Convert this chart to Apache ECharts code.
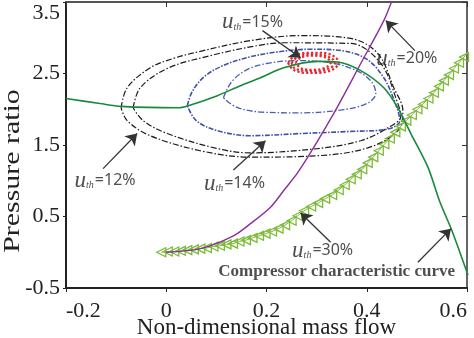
<!DOCTYPE html>
<html lang="en">
<head>
<meta charset="UTF-8">
<title>Compressor limit cycles</title>
<script src="https://cdn.jsdelivr.net/npm/echarts@6/dist/echarts.min.js"></script>
<style>
    html, body { margin: 0; padding: 0; background: #fff; }
    #chart { width: 474px; height: 338px; }
</style>
</head>
<body>
<div id="chart"></div>
<script>
// compressor characteristic curve [mass flow, pressure ratio]
var compressorCurve = [[-0.2, 2.15], [-0.132, 2.08], [-0.09, 2.04], [0.022, 2.02], [0.044, 2.05], [0.102, 2.19], [0.148, 2.33], [0.188, 2.44], [0.234, 2.58], [0.302, 2.67], [0.342, 2.66], [0.388, 2.54], [0.434, 2.30], [0.462, 2.02], [0.488, 1.66], [0.522, 1.19], [0.545, 0.72], [0.57, 0.30], [0.602, -0.32]];
// uth = 20%
var uth20 = [[0.0, 0.0], [0.068, 0.05], [0.134, 0.23], [0.168, 0.40], [0.208, 0.63], [0.234, 0.86], [0.265, 1.14], [0.334, 1.94], [0.388, 2.64], [0.434, 3.24], [0.452, 3.55]];
// uth = 30% (triangle markers)
var uth30 = [[-0.01, 0.0], [0.003, 0.01], [0.016, 0.01], [0.029, 0.02], [0.042, 0.03], [0.055, 0.04], [0.068, 0.05], [0.081, 0.06], [0.094, 0.08], [0.107, 0.09], [0.12, 0.11], [0.133, 0.12], [0.146, 0.15], [0.159, 0.17], [0.172, 0.20], [0.185, 0.23], [0.198, 0.26], [0.211, 0.29], [0.224, 0.33], [0.237, 0.38], [0.25, 0.44], [0.262, 0.51],
    [0.275, 0.58], [0.289, 0.64], [0.303, 0.69], [0.317, 0.75], [0.331, 0.80], [0.344, 0.87], [0.356, 0.94], [0.368, 1.02], [0.38, 1.09], [0.391, 1.16], [0.402, 1.25], [0.413, 1.33], [0.424, 1.42], [0.435, 1.51], [0.446, 1.59], [0.457, 1.68], [0.468, 1.76], [0.479, 1.84], [0.49, 1.92], [0.501, 2.0], [0.512, 2.07], [0.523, 2.15], [0.534, 2.23], [0.544, 2.32], [0.554, 2.40], [0.564, 2.48], [0.574, 2.57], [0.584, 2.65], [0.594, 2.73], [0.603, 2.81]];
// uth = 12% limit cycle (two loops)
var uth12Outer = [[-0.09, 2.02], [-0.078, 2.30], [-0.032, 2.58], [0.014, 2.71], [0.068, 2.81], [0.168, 2.96], [0.268, 3.03], [0.368, 2.99], [0.422, 2.78], [0.454, 2.30], [0.472, 1.98], [0.462, 1.70], [0.402, 1.46], [0.302, 1.35], [0.168, 1.33], [0.068, 1.42], [-0.032, 1.63], [-0.078, 1.84], [-0.09, 2.02]];
var uth12Inner = [[-0.066, 2.02], [-0.052, 2.30], [0.002, 2.57], [0.088, 2.75], [0.182, 2.89], [0.234, 2.93], [0.368, 2.92], [0.428, 2.64], [0.462, 2.08], [0.468, 1.90], [0.442, 1.74], [0.388, 1.56], [0.302, 1.45], [0.168, 1.39], [0.102, 1.45], [0.002, 1.66], [-0.046, 1.84], [-0.066, 2.02]];
// uth = 14% limit cycle (two loops)
var uth14Outer = [[0.042, 2.05], [0.052, 2.25], [0.075, 2.45], [0.11, 2.60], [0.16, 2.72], [0.22, 2.80], [0.29, 2.84], [0.35, 2.82], [0.40, 2.70], [0.434, 2.44], [0.456, 2.10], [0.466, 1.84], [0.44, 1.72], [0.368, 1.69], [0.268, 1.66], [0.168, 1.63], [0.102, 1.70], [0.06, 1.84], [0.042, 2.05]];
var uth14Inner = [[0.114, 2.16], [0.13, 2.38], [0.16, 2.55], [0.20, 2.64], [0.26, 2.68], [0.32, 2.66], [0.38, 2.54], [0.41, 2.38], [0.418, 2.22], [0.40, 2.08], [0.35, 1.99], [0.27, 1.95], [0.19, 1.96], [0.14, 2.03], [0.114, 2.16]];
// uth = 15% small cycle
var uth15Outer = [[0.243, 2.65], [0.255, 2.74], [0.28, 2.79], [0.31, 2.79], [0.335, 2.74], [0.344, 2.65], [0.333, 2.56], [0.305, 2.51], [0.275, 2.51], [0.252, 2.56], [0.243, 2.65]];
var uth15Mid = [[0.25, 2.65], [0.262, 2.73], [0.285, 2.77], [0.312, 2.76], [0.332, 2.70], [0.336, 2.64], [0.326, 2.575], [0.3, 2.53], [0.272, 2.54], [0.255, 2.58], [0.25, 2.65]];
var uth15Inner = [[0.258, 2.65], [0.268, 2.72], [0.29, 2.75], [0.315, 2.73], [0.328, 2.66], [0.32, 2.59], [0.295, 2.55], [0.27, 2.57], [0.258, 2.65]];

// annotations: label text and position, arrows tail -> tip
var uthLabels = [['15%', 0.172, 3.22], ['20%', 0.48, 2.71], ['12%', -0.122, 1.0], ['14%', 0.136, 0.96], ['30%', 0.312, 0.02]];
var curveLabel = ['Compressor characteristic curve', 0.34, -0.27];
var arrows = [[0.192, 3.10, 0.268, 2.72], [0.496, 2.82, 0.438, 3.24], [-0.126, 1.17, -0.058, 1.66], [0.134, 1.15, 0.198, 1.56], [0.328, 0.14, 0.268, 0.55], [0.502, -0.14, 0.568, 0.33]];

var serif = 'Liberation Serif';
var dashDot = [6, 2, 1.5, 2];

function loop(data, color, width, type) {
    return {
        type: 'line', data: data, smooth: 0.35, symbol: 'none', z: 2,
        lineStyle: { color: color, width: width, type: type }
    };
}

var chart = echarts.init(document.getElementById('chart'));
chart.setOption({
    animation: false,
    grid: { left: 66, right: 7, top: 2, bottom: 50, outerBoundsMode: 'none', containLabel: false },
    xAxis: [{
        type: 'value', min: -0.2, max: 0.6, interval: 0.2,
        name: 'Non-dimensional mass flow', nameLocation: 'middle', nameGap: 28, nameMoveOverlap: false,
        nameTextStyle: { fontFamily: serif, fontSize: 23, color: '#222' },
        axisLine: { onZero: false, lineStyle: { color: '#222', width: 2 } },
        axisTick: { inside: false, length: 4, lineStyle: { color: '#222' } },
        axisLabel: { fontFamily: serif, fontSize: 22, color: '#222', margin: 12, alignMinLabel: 'left', alignMaxLabel: 'right' },
        splitLine: { show: false }
    }, {
        type: 'value', position: 'top', min: -0.2, max: 0.6, interval: 0.2,
        axisLine: { show: true, onZero: false, lineStyle: { color: '#555', width: 2 } },
        axisTick: { inside: true, length: 5, lineStyle: { color: '#333' } },
        axisLabel: { show: false }, splitLine: { show: false }
    }],
    yAxis: [{
        type: 'value', min: -0.5, max: 3.5, interval: 1,
        axisLine: { show: true, onZero: false, lineStyle: { color: '#222', width: 2 } },
        axisTick: { show: true, inside: false, length: 3, lineStyle: { color: '#222' } },
        axisLabel: { fontFamily: serif, fontSize: 22, color: '#222', margin: 6, verticalAlignMaxLabel: 'top' },
        splitLine: { show: false }
    }, {
        type: 'value', position: 'right', min: -0.5, max: 3.5, interval: 1,
        axisLine: { show: true, onZero: false, lineStyle: { color: '#666', width: 2 } },
        axisTick: { show: true, inside: true, length: 5, lineStyle: { color: '#333' } },
        axisLabel: { show: false }, splitLine: { show: false }
    }],
    graphic: [{
        type: 'text', x: 13, y: 171, rotation: Math.PI / 2, scaleX: 1.3,
        style: { text: 'Pressure ratio', fontFamily: serif, fontSize: 23, fontWeight: 'normal', fill: '#222', textAlign: 'center', textVerticalAlign: 'middle', align: 'center', verticalAlign: 'middle' }
    }],
    series: [
        loop(uth12Outer, '#1a1a1a', 1.2, dashDot),
        loop(uth12Inner, '#1a1a1a', 1.2, dashDot),
        loop(uth14Outer, '#3f50a8', 1.6, [5, 1.5, 1.5, 1.5]),
        loop(uth14Inner, '#4a5cb5', 1.3, dashDot),
        loop(uth15Outer, '#e8262a', 2.2, 'dotted'),
        loop(uth15Mid, '#e8262a', 2.2, 'dotted'),
        loop(uth15Inner, '#e8262a', 2.2, 'dotted'),
        {
            type: 'line', data: uth30, symbol: 'triangle', symbolSize: 9, symbolRotate: 90, showAllSymbol: true, z: 3,
            lineStyle: { color: '#7dba3a', width: 1 },
            itemStyle: { color: 'rgba(255,255,255,0)', borderColor: '#7dba3a', borderWidth: 1.3 }
        },
        {
            type: 'line', data: uth20, smooth: 0.3, symbol: 'none', z: 4,
            lineStyle: { color: '#8a2f9c', width: 1.4 }
        },
        {
            type: 'line', data: compressorCurve, smooth: 0.3, symbol: 'none', z: 4,
            lineStyle: { color: '#178a3c', width: 1.6 }
        },
        {
            type: 'scatter', z: 5, symbolSize: 1,
            itemStyle: { color: 'rgba(0,0,0,0)' },
            data: uthLabels.map(function (l) { return { name: l[0], value: [l[1], l[2]] }; }),
            label: {
                show: true, position: 'inside',
                formatter: function (p) { return '{u|u}{s|th}{t|=' + p.name + '}'; },
                rich: {
                    u: { fontFamily: serif, fontStyle: 'italic', fontSize: 23, color: '#222', lineHeight: 20 },
                    s: { fontFamily: serif, fontStyle: 'italic', fontSize: 10, color: '#222', lineHeight: 20, verticalAlign: 'bottom', padding: [0, 1, 0, 0] },
                    t: { fontFamily: 'Noto Sans', fontSize: 16, color: '#222', lineHeight: 20 }
                }
            },
            markLine: {
                silent: true, symbol: ['none', 'arrow'], symbolSize: 11,
                lineStyle: { color: '#333', width: 1.3, type: 'solid' },
                label: { show: false },
                data: arrows.map(function (a) { return [{ coord: [a[0], a[1]] }, { coord: [a[2], a[3]] }]; })
            }
        },
        {
            type: 'scatter', z: 5, symbolSize: 1,
            itemStyle: { color: 'rgba(0,0,0,0)' },
            data: [{ name: curveLabel[0], value: [curveLabel[1], curveLabel[2]] }],
            label: {
                show: true, position: 'inside', formatter: '{b}',
                fontFamily: serif, fontWeight: 'bold', fontSize: 17, color: '#222'
            }
        }
    ]
});
</script>
</body>
</html>
